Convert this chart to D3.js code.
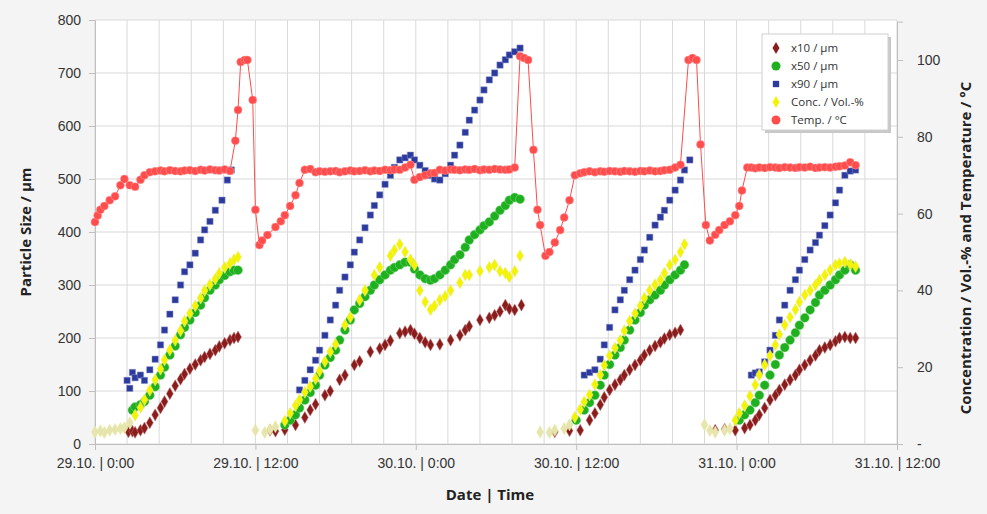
<!DOCTYPE html>
<html>
<head>
<meta charset="utf-8">
<script src="https://cdn.jsdelivr.net/npm/d3@7"></script>
<style>
  body { margin: 0; background: #f4f4f4; }
  svg { font-family: "Open Sans", "Noto Sans", sans-serif; }
</style>
</head>
<body>
<svg id="chart" width="987" height="514"></svg>
<script>
// hours since 29.10. 0:00, value
const x10Data = [
  [2.5,23],[2.8,24],[3.0,22],[3.4,26],[3.7,30],[4.1,40],[4.5,55],[4.9,68],[5.2,80],[5.6,95],[6.0,110],[6.4,122],[6.7,132],[7.1,142],[7.5,150],[7.9,158],[8.2,164],[8.6,170],[9.0,177],[9.3,184],[9.7,190],[10.1,196],[10.4,200],[10.7,202],
  [13.1,26],[13.5,24],[14.2,27],[15.0,36],[15.7,50],[16.1,64],[16.5,75],[17.2,92],[17.6,100],[18.3,121],[18.7,130],[19.4,149],[19.8,156],[20.6,174],[21.3,180],[21.7,187],[22.1,195],[22.8,209],[23.2,212],[23.6,215],[23.9,208],[24.3,200],[24.7,192],[25.1,187],[25.8,188],[26.6,196],[27.3,205],[27.7,215],[28.0,222],[28.8,234],[29.5,238],[29.9,243],[30.3,250],[30.7,262],[31.0,255],[31.4,253],[31.9,262],
  [34.4,23],[35.5,25],[36.3,26],[37.0,45],[37.4,58],[37.8,74],[38.1,88],[38.5,102],[38.9,112],[39.3,121],[39.6,130],[40.0,140],[40.4,149],[40.8,158],[41.1,168],[41.5,177],[41.9,185],[42.3,192],[42.6,199],[43.0,206],[43.4,210],[43.8,215],
  [46.4,26],[47.1,28],[47.9,26],[48.6,30],[49.0,36],[49.4,45],[49.7,55],[50.1,68],[50.5,83],[50.9,92],[51.2,102],[51.6,112],[52.0,121],[52.4,130],[52.7,140],[53.1,149],[53.5,158],[53.9,167],[54.2,177],[54.6,182],[55.0,187],[55.4,194],[55.7,200],[56.1,202],[56.5,200],[56.9,200]
];
const x50Data = [
  [2.8,64],[3.0,70],[3.4,74],[3.7,80],[4.1,92],[4.5,108],[4.9,130],[5.2,145],[5.6,168],[6.0,185],[6.4,206],[6.7,220],[7.1,234],[7.5,248],[7.9,262],[8.2,276],[8.6,290],[9.0,300],[9.3,310],[9.7,318],[10.1,325],[10.4,328],[10.7,328],
  [14.2,36],[14.6,45],[15.0,55],[15.3,68],[15.7,83],[16.1,97],[16.5,111],[16.8,130],[17.2,149],[17.6,163],[18.0,177],[18.3,196],[18.7,215],[19.1,234],[19.4,253],[19.8,265],[20.2,278],[20.6,290],[20.9,300],[21.3,310],[21.7,319],[22.1,328],[22.4,333],[22.8,338],[23.2,343],[23.6,343],[23.9,330],[24.3,319],[24.7,312],[25.1,309],[25.4,312],[25.8,319],[26.2,328],[26.6,338],[26.9,348],[27.3,357],[27.7,371],[28.0,385],[28.4,395],[28.8,404],[29.1,412],[29.5,419],[29.9,430],[30.3,441],[30.7,450],[31.0,460],[31.4,465],[31.8,462],
  [36.0,45],[36.6,64],[37.0,78],[37.4,92],[37.8,111],[38.1,130],[38.5,150],[38.9,168],[39.3,182],[39.6,196],[40.0,215],[40.4,234],[40.8,248],[41.1,262],[41.5,272],[41.9,281],[42.3,290],[42.6,300],[43.0,310],[43.4,319],[43.8,328],[44.1,338],
  [48.2,45],[48.6,55],[49.0,64],[49.4,78],[49.7,92],[50.1,111],[50.5,130],[50.9,150],[51.2,168],[51.6,182],[52.0,196],[52.4,210],[52.7,224],[53.1,238],[53.5,253],[53.9,267],[54.2,281],[54.6,290],[55.0,300],[55.4,310],[55.7,319],[56.1,328],[56.5,338],[56.9,328]
];
const x90Data = [
  [2.4,120],[2.6,105],[2.8,135],[3.0,125],[3.4,130],[3.7,120],[4.1,140],[4.5,160],[4.9,187],[5.2,215],[5.6,245],[6.0,272],[6.4,300],[6.7,325],[7.1,338],[7.5,360],[7.9,385],[8.2,404],[8.6,420],[9.0,441],[9.5,460],[9.9,498],[10.2,517],
  [15.3,102],[15.7,120],[16.1,140],[16.5,158],[16.8,177],[17.2,205],[17.6,234],[18.0,262],[18.3,290],[18.7,315],[19.1,338],[19.4,362],[19.8,385],[20.2,408],[20.6,432],[20.9,450],[21.3,470],[21.7,490],[22.1,507],[22.4,522],[22.8,536],[23.2,540],[23.6,545],[23.9,536],[24.3,526],[24.7,516],[25.1,507],[25.4,500],[25.8,498],[26.2,510],[26.6,526],[26.9,545],[27.3,564],[27.7,588],[28.0,611],[28.4,630],[28.8,649],[29.1,668],[29.5,687],[29.9,700],[30.3,715],[30.7,725],[31.0,734],[31.4,740],[31.8,747],
  [36.6,130],[37.0,135],[37.4,140],[37.8,160],[38.1,187],[38.5,220],[38.9,253],[39.3,272],[39.6,290],[40.0,310],[40.4,328],[40.8,348],[41.1,366],[41.5,390],[41.9,413],[42.3,428],[42.6,441],[43.0,460],[43.4,479],[43.8,498],[44.1,517],[44.5,536],
  [49.1,130],[49.4,134],[49.7,136],[50.1,155],[50.5,177],[50.9,205],[51.2,234],[51.6,262],[52.0,290],[52.4,310],[52.7,328],[53.1,348],[53.5,366],[53.9,380],[54.2,394],[54.6,412],[55.0,432],[55.4,455],[55.7,479],[56.1,507],[56.5,515],[56.9,517]
];
const concData = [
  [0,3.1],[0.4,3.4],[0.7,3.0],[1.1,3.6],[1.5,3.8],[1.9,4.0],[2.2,4.2],[2.6,5.5],[3.0,7.5],[3.4,9.5],[3.7,11.5],[4.1,14.0],[4.5,16.7],[4.9,19.5],[5.2,21.9],[5.6,24.5],[6.0,27.0],[6.4,29.5],[6.7,32.0],[7.1,34.0],[7.5,36.0],[7.9,38.0],[8.2,40.0],[8.6,41.5],[9.0,43.0],[9.3,44.5],[9.7,46.0],[10.1,47.0],[10.4,48.0],[10.7,48.7],
  [12.0,3.6],[12.7,3.0],[13.1,3.8],[13.5,4.5],[14.2,6.0],[14.6,8.0],[15.0,10.0],[15.3,11.5],[15.7,13.5],[16.1,15.0],[16.5,17.0],[16.8,19.0],[17.2,21.5],[17.6,24.0],[18.0,26.0],[18.7,31.0],[19.1,33.0],[19.8,37.5],[20.2,40.0],[20.9,44.0],[21.3,46.0],[22.1,49.0],[22.4,50.5],[22.8,52.0],[23.2,50.0],[23.6,48.0],[23.9,46.6],[24.3,40.0],[24.7,37.0],[25.1,35.0],[25.4,36.0],[25.8,37.5],[26.2,38.5],[26.6,40.0],[27.3,42.0],[27.7,44.0],[28.0,44.0],[28.8,45.0],[29.5,46.0],[29.9,46.6],[30.3,45.0],[30.7,44.5],[31.0,43.5],[31.4,45.0],[31.8,49.0],
  [33.3,3.1],[34.0,3.0],[34.4,3.6],[35.1,4.0],[35.5,5.0],[35.9,7.0],[36.3,9.0],[36.6,11.0],[37.0,12.8],[37.4,15.5],[37.8,18.0],[38.1,20.5],[38.5,23.0],[38.9,25.0],[39.3,27.0],[39.6,29.5],[40.0,32.0],[40.4,34.0],[40.8,36.0],[41.1,38.0],[41.5,40.0],[41.9,41.5],[42.3,42.7],[42.6,44.5],[43.0,46.6],[43.4,48.0],[43.8,50.0],[44.1,52.0],
  [45.6,5.0],[46.0,3.5],[46.4,3.1],[47.1,3.6],[47.5,4.0],[47.9,6.2],[48.2,8.0],[48.6,10.0],[49.0,12.5],[49.4,15.4],[49.7,18.0],[50.1,20.6],[50.5,23.0],[50.9,25.8],[51.2,28.5],[51.6,31.0],[52.0,33.0],[52.4,35.0],[52.7,37.0],[53.1,38.8],[53.5,40.0],[53.9,41.4],[54.2,42.7],[54.6,44.0],[55.0,45.3],[55.4,46.6],[55.7,47.0],[56.1,47.4],[56.5,46.8],[56.9,46.2]
];
const tempData = [
  [0,57.8],[0.2,59.5],[0.4,61],[0.7,62],[1.1,63.5],[1.5,64.5],[1.9,67.4],[2.2,69],[2.6,67.4],[3.0,67],[3.4,68.8],[3.7,70],[4.1,70.8],[4.5,71],[4.9,71.2],[5.2,71],[5.6,71.3],[6.0,71.1],[6.4,71],[6.7,71.2],[7.1,71.3],[7.5,71.1],[7.9,71.4],[8.2,71.2],[8.6,71.5],[9.0,71.3],[9.3,71.2],[9.7,71.5],[10.1,71.1],[10.5,79],[10.7,87],[10.9,99.5],[11.2,100],[11.4,100],[11.8,89.6],[12.0,61],[12.3,51.8],[12.5,53],[12.9,54.4],[13.5,56.5],[13.9,58],[14.2,59.6],[14.6,62],[15.0,64.8],[15.3,68],[15.7,71.4],[16.1,71.6],[16.5,70.8],[16.8,71],[17.2,70.9],[17.6,71],[18.0,71.1],[18.3,70.8],[18.7,71],[19.1,71.2],[19.4,71],[19.8,71.1],[20.2,71.3],[20.6,71],[20.9,71.2],[21.3,71.1],[21.7,71.4],[22.1,71.3],[22.4,71.5],[22.8,71.4],[23.2,72],[23.6,72.7],[23.9,68.8],[24.3,69.5],[24.7,70],[25.1,70.5],[25.4,70.6],[25.8,71.4],[26.2,71.2],[26.6,71.5],[26.9,71.4],[27.3,71.3],[27.7,71.5],[28.0,71.4],[28.4,71.6],[28.8,71.3],[29.1,71.5],[29.5,71.4],[29.9,71.6],[30.3,71.5],[30.7,71.4],[31.0,71.5],[31.4,72],[31.8,101],[32.1,100.5],[32.4,100],[32.8,76.6],[33.1,61],[33.3,57],[33.7,49],[34.0,50],[34.4,52.5],[34.8,55.7],[35.1,59],[35.5,63.5],[35.9,70],[36.3,70.5],[36.6,70.8],[37.0,71],[37.4,70.8],[37.8,71],[38.1,70.9],[38.5,71.1],[38.9,71],[39.3,70.9],[39.6,71.1],[40.0,71],[40.4,70.9],[40.8,71.1],[41.1,71],[41.5,71.2],[41.9,71],[42.3,71.1],[42.6,71.3],[43.0,71.4],[43.4,72],[43.8,72.7],[44.4,100],[44.7,100.5],[45.0,100],[45.3,78],[45.7,57],[46.0,53],[46.4,54.5],[46.7,55.7],[47.1,57],[47.5,58],[47.9,59.6],[48.2,62],[48.4,66],[48.8,72],[49.1,72],[49.4,71.8],[49.7,72],[50.1,71.9],[50.5,72.1],[50.9,72],[51.2,71.9],[51.6,72.1],[52.0,72],[52.4,71.9],[52.7,72.1],[53.1,72],[53.5,72.2],[53.9,71.9],[54.2,72],[54.6,72.1],[55.0,72],[55.4,72.2],[55.7,72.3],[56.1,72.5],[56.5,73.4],[56.9,72.6]
];
const xTickHours = [0, 12, 24, 36, 48, 60];
const xTickLabels = ["29.10. | 0:00", "29.10. | 12:00", "30.10. | 0:00", "30.10. | 12:00", "31.10. | 0:00", "31.10. | 12:00"];
const leftTicks = [0, 100, 200, 300, 400, 500, 600, 700, 800];
const rightTicks = [0, 20, 40, 60, 80, 100];
const legendLabels = ["x10 / µm", "x50 / µm", "x90 / µm", "Conc. / Vol.-%", "Temp. / °C"];

const colors = { x10: "#8b1c1c", x50: "#1eb01e", x90: "#2b3a9c", conc: "#f4f400", temp: "#ff4c4c" };

const svg = d3.select("#chart");
const plot = { left: 95, right: 897, top: 20, bottom: 444 };

const x = d3.scaleLinear().domain([0, 60]).range([plot.left, plot.right]);
const yL = d3.scaleLinear().domain([0, 800]).range([plot.bottom, plot.top]);
const yR = d3.scaleLinear().domain([0, 110]).range([plot.bottom, plot.bottom - 110 * 3.84]);

svg.append("rect").attr("x", plot.left).attr("y", plot.top)
    .attr("width", plot.right - plot.left).attr("height", plot.bottom - plot.top)
    .attr("fill", "#fff");

// grid
const vGrid = d3.range(0, 60.01, 2.4);
svg.append("g").selectAll("line").data(vGrid).join("line")
    .attr("x1", d => x(d)).attr("x2", d => x(d))
    .attr("y1", plot.top).attr("y2", plot.bottom)
    .attr("stroke", "#d9d9d9").attr("stroke-width", 1);
svg.append("g").selectAll("line").data(leftTicks).join("line")
    .attr("x1", plot.left).attr("x2", plot.right)
    .attr("y1", d => yL(d)).attr("y2", d => yL(d))
    .attr("stroke", "#d9d9d9").attr("stroke-width", 1);

// axes
const axisColor = "#bfbfbf";
const gx = svg.append("g").attr("transform", `translate(0,${plot.bottom})`)
    .call(d3.axisBottom(x).tickValues(xTickHours).tickFormat((d, i) => xTickLabels[i]).tickSize(6).tickPadding(8));
const gl = svg.append("g").attr("transform", `translate(${plot.left},0)`)
    .call(d3.axisLeft(yL).tickValues(leftTicks).tickSize(6).tickPadding(8));
const gr = svg.append("g").attr("transform", `translate(${plot.right},0)`)
    .call(d3.axisRight(yR).tickValues(rightTicks).tickFormat(d => d === 0 ? "-" : d).tickSize(6).tickPadding(14));
[gx, gl, gr].forEach(g => {
  g.selectAll(".domain, line").attr("stroke", axisColor);
  g.selectAll("text").attr("fill", "#333").style("font-size", "14px");
});

// series
const diamond = d3.symbol().type(d3.symbolDiamond).size(42);
const square = d3.symbol().type(d3.symbolSquare).size(40);

svg.append("path").datum(tempData)
    .attr("fill", "none").attr("stroke", colors.temp).attr("stroke-width", 1)
    .attr("d", d3.line().x(d => x(d[0])).y(d => yR(d[1])));

svg.append("g").selectAll("path").data(x10Data).join("path")
    .attr("d", diamond).attr("transform", d => `translate(${x(d[0])},${yL(d[1])})`)
    .attr("fill", colors.x10).attr("stroke", "#c08080").attr("stroke-width", 0.5);
svg.append("g").selectAll("circle").data(x50Data).join("circle")
    .attr("cx", d => x(d[0])).attr("cy", d => yL(d[1])).attr("r", 4.5)
    .attr("fill", colors.x50).attr("stroke", "#8fd88f").attr("stroke-width", 0.5);
svg.append("g").selectAll("path").data(x90Data).join("path")
    .attr("d", square).attr("transform", d => `translate(${x(d[0])},${yL(d[1])})`)
    .attr("fill", colors.x90).attr("stroke", "#8a93c8").attr("stroke-width", 0.5);
svg.append("g").selectAll("path").data(concData).join("path")
    .attr("d", diamond).attr("transform", d => `translate(${x(d[0])},${yR(d[1])})`)
    .attr("fill", d => d[1] < 6 ? "#e6e4b0" : colors.conc).attr("stroke", "#e8e890").attr("stroke-width", 0.5);
svg.append("g").selectAll("circle").data(tempData).join("circle")
    .attr("cx", d => x(d[0])).attr("cy", d => yR(d[1])).attr("r", 4)
    .attr("fill", colors.temp).attr("stroke", "#ff9c9c").attr("stroke-width", 0.5);

// axis titles
svg.append("text").attr("x", 490).attr("y", 500).attr("text-anchor", "middle")
    .style("font-size", "15px").style("font-weight", "bold").attr("fill", "#222").text("Date | Time");
svg.append("text").attr("transform", "translate(31,232) rotate(-90)").attr("text-anchor", "middle")
    .style("font-size", "15px").style("font-weight", "bold").attr("fill", "#222").text("Particle Size / µm");
svg.append("text").attr("transform", "translate(971,248) rotate(-90)").attr("text-anchor", "middle")
    .style("font-size", "15px").style("font-weight", "bold").attr("fill", "#222").text("Concentration / Vol.-% and Temperature / °C");

// legend
const lg = svg.append("g").attr("transform", "translate(762,34)");
lg.append("rect").attr("x", 3).attr("y", 3).attr("width", 126).attr("height", 96).attr("fill", "#c8c8c8");
lg.append("rect").attr("width", 126).attr("height", 96).attr("fill", "#fff").attr("stroke", "#d0d0d0");
const markerFns = [
  g => g.append("path").attr("d", diamond).attr("fill", colors.x10),
  g => g.append("circle").attr("r", 4.5).attr("fill", colors.x50),
  g => g.append("path").attr("d", square).attr("fill", colors.x90),
  g => g.append("path").attr("d", diamond).attr("fill", colors.conc),
  g => g.append("circle").attr("r", 4.5).attr("fill", colors.temp)
];
legendLabels.forEach((lab, i) => {
  const row = lg.append("g").attr("transform", `translate(0,${14 + i * 18})`);
  markerFns[i](row.append("g").attr("transform", "translate(14,0)"));
  row.append("text").attr("x", 29).attr("y", 4).style("font-size", "11.5px").attr("fill", "#333").text(lab);
});
</script>
</body>
</html>
